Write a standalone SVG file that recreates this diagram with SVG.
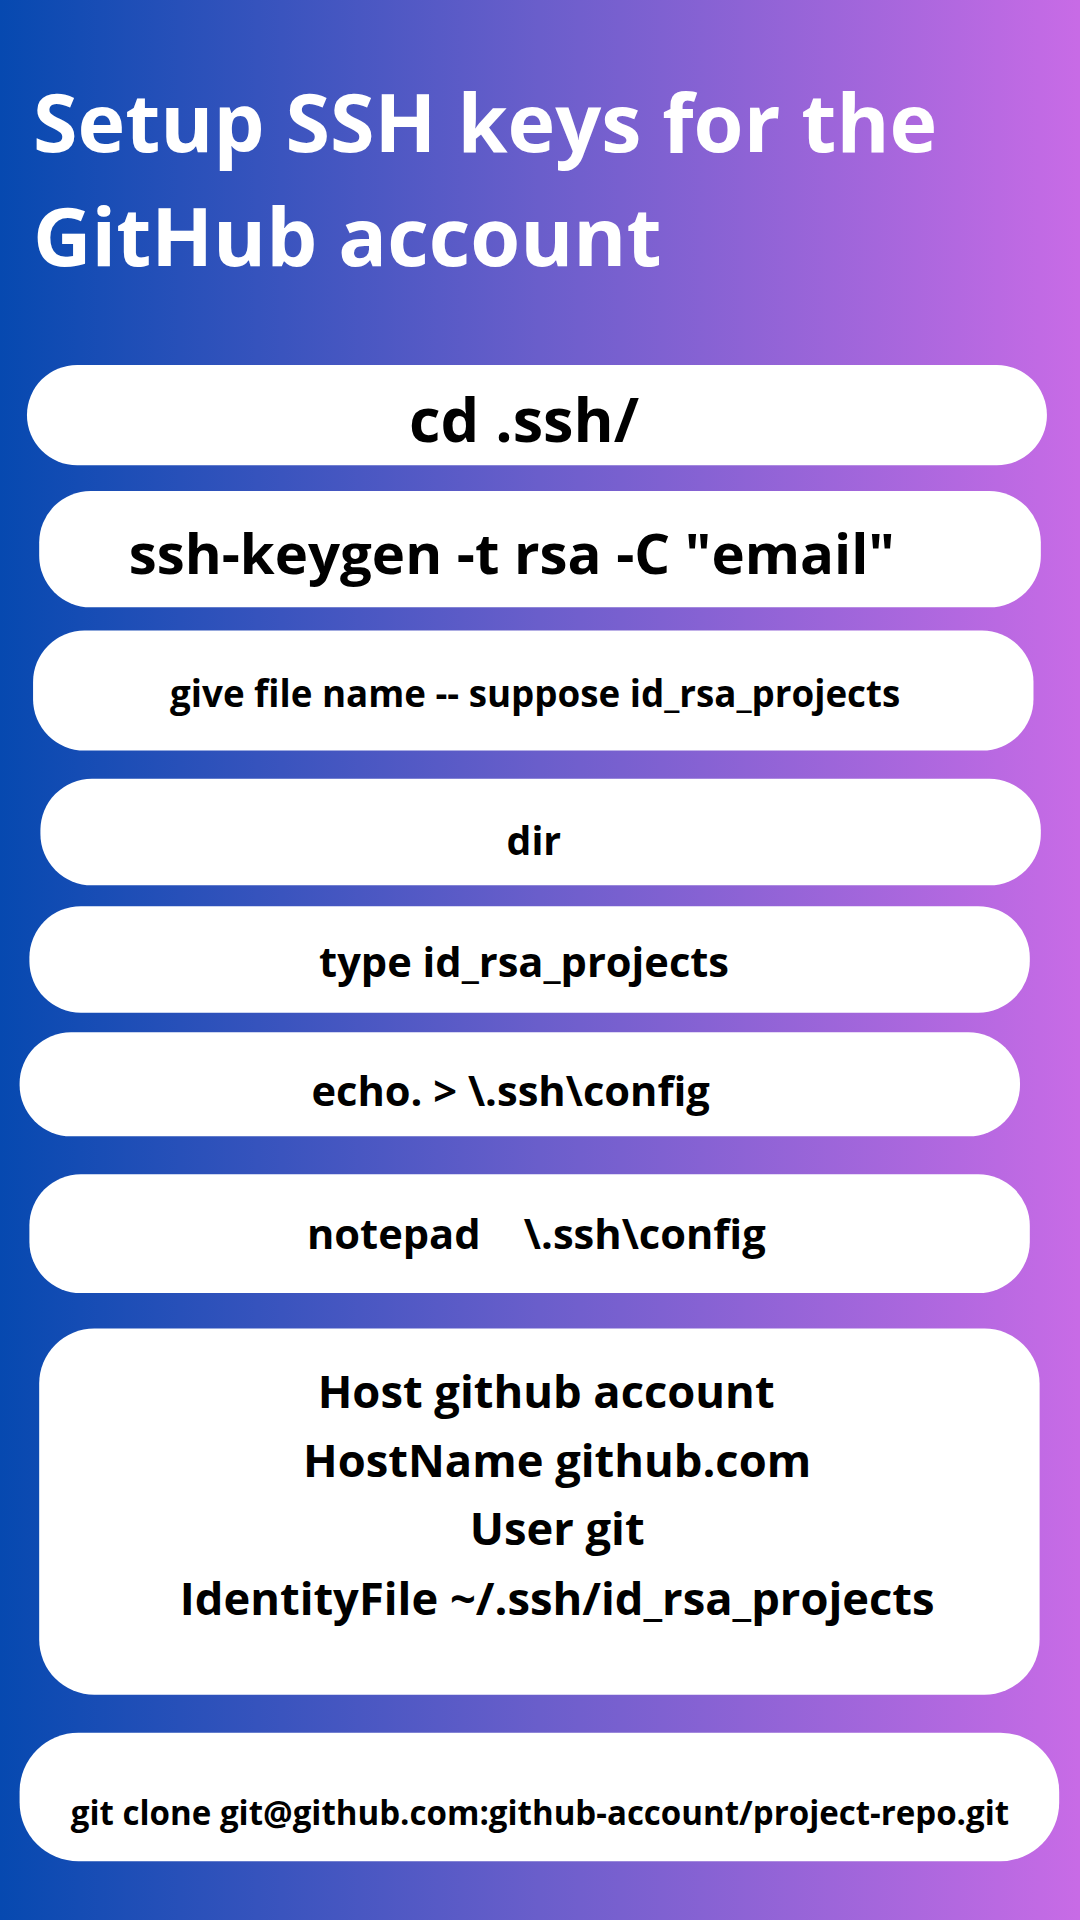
<svg xmlns="http://www.w3.org/2000/svg" width="1080" height="1920" viewBox="0 0 1080 1920">
<defs>
<linearGradient id="bg" x1="0" y1="0" x2="1" y2="0">
<stop offset="0" stop-color="#0649b0"/>
<stop offset="0.5" stop-color="#6a5ecb"/>
<stop offset="1" stop-color="#c86be6"/>
</linearGradient>
<style>
.box{fill:#fff}
text{font-family:"Open Sans","DejaVu Sans",sans-serif;font-weight:700;fill:#000;text-anchor:middle}
.title{fill:#fff;text-anchor:start}
</style>
</defs>
<rect width="1080" height="1920" fill="url(#bg)"/>
<g transform="scale(1.2245)">
<g id="title"><text class="title" x="27" y="124" font-size="66">Setup SSH keys for the</text><text class="title" x="27" y="217" font-size="66">GitHub account</text></g>
<g id="n1"><rect class="box" x="22" y="298" width="833" height="82" rx="41"/><text x="428" y="361" font-size="50">cd .ssh/</text></g>
<g id="n2"><rect class="box" x="32" y="401" width="818" height="95" rx="42"/><text x="418" y="469" font-size="46">ssh-keygen -t rsa -C "email"</text></g>
<g id="n3"><rect class="box" x="27" y="515" width="817" height="98" rx="42"/><text x="437" y="577" font-size="30">give file name -- suppose id_rsa_projects</text></g>
<g id="n4"><rect class="box" x="33" y="636" width="817" height="87" rx="42"/><text x="436" y="698" font-size="32">dir</text></g>
<g id="n5"><rect class="box" x="24" y="740" width="817" height="87" rx="42"/><text x="428" y="798" font-size="34">type id_rsa_projects</text></g>
<g id="n6"><rect class="box" x="16" y="843" width="817" height="85" rx="42"/><text x="417" y="903" font-size="34">echo. &gt; \.ssh\config</text></g>
<g id="n7"><rect class="box" x="24" y="959" width="817" height="97" rx="42"/><text x="438" y="1020" font-size="34" xml:space="preserve">notepad    \.ssh\config</text></g>
<g id="n8"><rect class="box" x="32" y="1085" width="817" height="299" rx="45"/>
<text x="446" y="1150" font-size="37">Host github account</text>
<text x="455" y="1206" font-size="37">HostName github.com</text>
<text x="455" y="1262" font-size="37">User git</text>
<text x="455" y="1319" font-size="37">IdentityFile ~/.ssh/id_rsa_projects</text></g>
<g id="n9"><rect class="box" x="16" y="1415" width="849" height="105" rx="48"/><text x="441" y="1490" font-size="27">git clone git@github.com:github-account/project-repo.git</text></g>
</g>
<g id="connectors"/>
</svg>
